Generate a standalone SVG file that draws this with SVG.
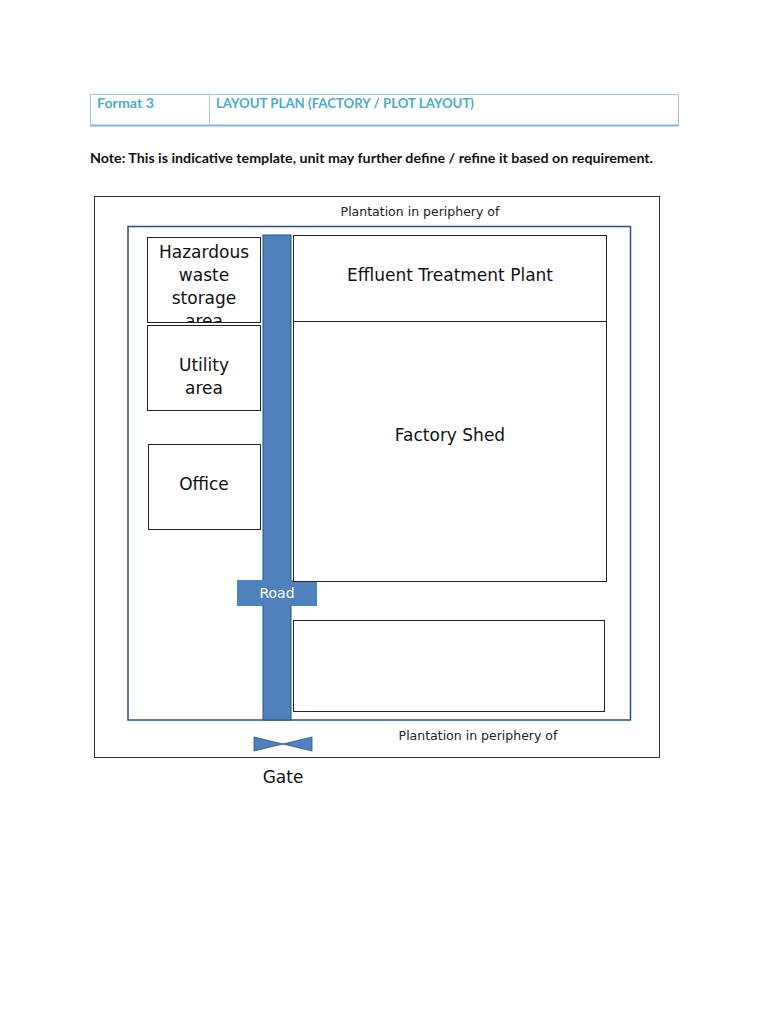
<svg xmlns="http://www.w3.org/2000/svg" width="768" height="1024" viewBox="0 0 768 1024">
<style>
.box{fill:#fff;stroke:#222;stroke-width:1}
.t{font-family:"DejaVu Sans",sans-serif;fill:#111;text-anchor:middle}
.hd{font-family:"Lato","Liberation Sans",sans-serif;fill:#4bacc6;font-size:13.5px;font-weight:bold}
.sm{font-family:"DejaVu Sans",sans-serif;font-size:12.5px;fill:#222;text-anchor:middle}
</style>
<defs><clipPath id="hz"><rect x="148" y="238" width="112" height="84"/></clipPath></defs>
<rect width="768" height="1024" fill="#fff"/>
<g id="header">
<rect x="90.500" y="94.500" width="588" height="31" fill="#fff" stroke="#a9c7e2"/>
<line x1="90" y1="125.500" x2="679" y2="125.500" stroke="#8db3dc" stroke-width="2"/>
<line x1="209.500" y1="94" x2="209.500" y2="126" stroke="#a9c7e2"/>
<text class="hd" x="97" y="108" textLength="57" lengthAdjust="spacingAndGlyphs">Format 3</text>
<text class="hd" x="216" y="108" textLength="258" lengthAdjust="spacingAndGlyphs">LAYOUT PLAN (FACTORY / PLOT LAYOUT)</text>
<text x="90" y="163" font-family="Lato,'Liberation Sans',sans-serif" font-size="14" font-weight="bold" fill="#111" textLength="563" lengthAdjust="spacingAndGlyphs">Note: This is indicative template, unit may further define / refine it based on requirement.</text>
</g>
<g id="plot">
<rect x="94.500" y="196.500" width="565" height="561" fill="#fff" stroke="#333"/>
<text class="sm" x="420" y="216">Plantation in periphery of</text>
<rect x="128" y="226.500" width="502.500" height="493.500" fill="#fff" stroke="#2f4f7a" stroke-width="1.5"/>
<text class="sm" x="478" y="740">Plantation in periphery of</text>
</g>
<g id="road">
<rect x="263" y="235" width="28" height="485" fill="#4f81bd" stroke="#2f4f7a"/>
<rect x="237" y="580" width="80" height="26" fill="#4f81bd"/>
<text class="t" x="277" y="598" font-size="14" style="fill:#fff">Road</text>
</g>
<g id="hazardous">
<rect class="box" x="147.500" y="237.500" width="113" height="85"/>
<g clip-path="url(#hz)"><text class="t" font-size="17"><tspan x="204" y="258">Hazardous</tspan><tspan x="204" y="281">waste</tspan><tspan x="204" y="304">storage</tspan><tspan x="204" y="327">area</tspan></text></g>
</g>
<g id="utility"><rect class="box" x="147.500" y="325.500" width="113" height="85"/>
<text class="t" font-size="17"><tspan x="204" y="371">Utility</tspan><tspan x="204" y="394">area</tspan></text></g>
<g id="office"><rect class="box" x="148.500" y="444.500" width="112" height="85"/>
<text class="t" font-size="17" x="204" y="490">Office</text></g>
<g id="etp"><rect class="box" x="293.500" y="235.500" width="313" height="86"/>
<text class="t" font-size="17" x="450" y="281">Effluent Treatment Plant</text></g>
<g id="shed"><rect class="box" x="293.500" y="321.500" width="313" height="260"/>
<text class="t" font-size="17" x="450" y="441">Factory Shed</text></g>
<g id="blank"><rect class="box" x="293.500" y="620.500" width="311" height="91" stroke-width="1.5"/></g>
<g id="gate">
<polygon points="254,737 283,744 312,737 312,751 283,744 254,751" fill="#4f81bd" stroke="#2f4f7a" stroke-width="0.8"/>
<text class="t" font-size="17" x="283" y="783">Gate</text>
</g>
</svg>
